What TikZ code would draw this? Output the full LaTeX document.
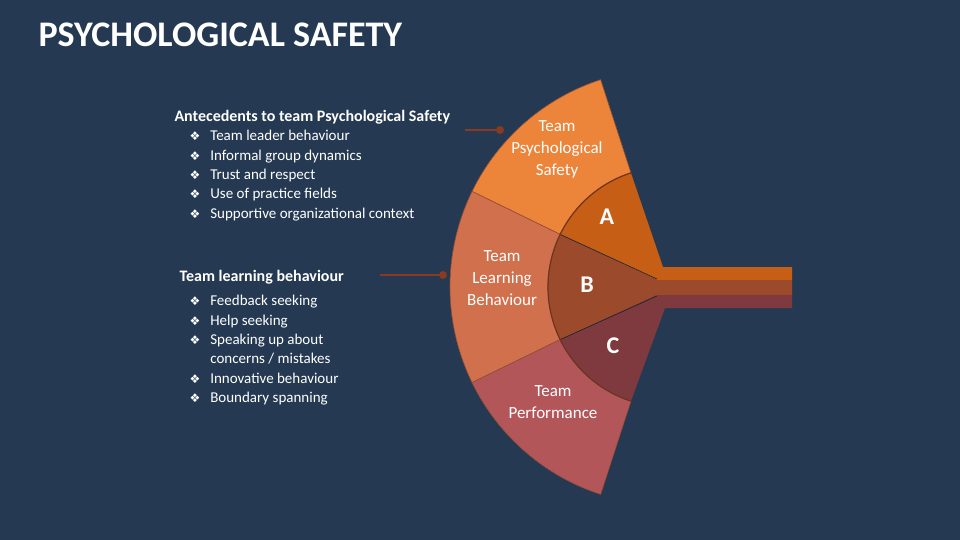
\documentclass[tikz,border=0pt]{standalone}
\usepackage{fontspec}
\usetikzlibrary{calc}
\setmainfont{Carlito}
\newfontfamily\symfont{DejaVu Sans}
\definecolor{bg}{HTML}{253A52}
\definecolor{oA}{HTML}{EC843A}
\definecolor{oB}{HTML}{D0704C}
\definecolor{oC}{HTML}{B3565A}
\definecolor{iA}{HTML}{C65E16}
\definecolor{iB}{HTML}{9C4A2C}
\definecolor{iC}{HTML}{7E3A3F}
\definecolor{conn}{HTML}{8A3A1E}
\tikzset{
 seg/.style={draw=black!30!oB, line width=0.6pt},
 lbl/.style={text=white, font=\fontsize{17}{22}\selectfont, align=center},
 letter/.style={text=white, font=\fontsize{24}{26}\selectfont\bfseries},
 head/.style={text=white, font=\fontsize{16}{18}\selectfont\bfseries, anchor=west},
 item/.style={text=white, font=\fontsize{15}{19.3}\selectfont, anchor=north west, align=left},
 connline/.style={draw=conn, line width=1.2pt},
 dot/.style={circle, fill=conn, inner sep=0pt, minimum size=8pt},
}
\newcommand{\bul}{{\symfont\fontsize{12}{19}\selectfont ❖}\hspace{10pt}}
\begin{document}
\begin{tikzpicture}[x=1pt,y=-1pt]
\fill[bg] (0,0) rectangle (960,540);
\useasboundingbox (0,0) rectangle (960,540);
\node[text=white, font=\fontsize{36}{38}\selectfont\bfseries, anchor=west] (title) at (35,35) {PSYCHOLOGICAL SAFETY};
\coordinate (c) at (668,287);
% outer sectors
\path[seg, fill=oA] ($(c)+(-108:218)$) arc[start angle=-108, end angle=-154, radius=218] -- ($(c)+(-154:120)$) arc[start angle=-154, end angle=-108, radius=120] -- cycle;
\path[seg, fill=oB] ($(c)+(-154:218)$) arc[start angle=-154, end angle=-206, radius=218] -- ($(c)+(-206:120)$) arc[start angle=-206, end angle=-154, radius=120] -- cycle;
\path[seg, fill=oC] ($(c)+(-206:218)$) arc[start angle=-206, end angle=-252, radius=218] -- ($(c)+(-252:120)$) arc[start angle=-252, end angle=-206, radius=120] -- cycle;
% inner sectors with bars
\path[fill=iA] ($(c)+(-154:120)$) arc[start angle=-154, end angle=-108, radius=120] -- (663,267) -- (792,267) -- (792,280) -- (657,280) -- cycle;
\path[fill=iB] ($(c)+(-154:120)$) -- (657,280) -- (792,280) -- (792,295) -- (657,295) -- ($(c)+(-206:120)$) arc[start angle=-206, end angle=-154, radius=120] -- cycle;
\path[fill=iC] ($(c)+(-206:120)$) -- (657,295) -- (792,295) -- (792,308) -- (665,308) -- ($(c)+(-252:120)$) arc[start angle=-252, end angle=-206, radius=120] -- cycle;
\draw[black!40!bg, line width=0.6pt] ($(c)+(-154:120)$) -- (657,279) ($(c)+(-206:120)$) -- (657,296);
\draw[black!30!iB, line width=1.2pt] ($(c)+(-108:120)$) arc[start angle=-108, end angle=-252, radius=120];
% labels
\node[lbl] (tps) at (557,149) {Team\\Psychological\\Safety};
\node[lbl] (tlb) at (502,278) {Team\\Learning\\Behaviour};
\node[lbl] (tp) at (553,402) {Team\\Performance};
\node[letter] (a) at (607,217) {A};
\node[letter] (b) at (587,285) {B};
\node[letter] (cc) at (613,346) {C};
% text
\node[head] (h1) at (171,117) {Antecedents to team Psychological Safety};
\node[item] (l1) at (186,127) {\bul Team leader behaviour\\\bul Informal group dynamics\\\bul Trust and respect\\\bul Use of practice fields\\\bul Supportive organizational context};
\node[head] (h2) at (176,277) {Team learning behaviour};
\node[item] (l2) at (186,292) {\bul Feedback seeking\\\bul Help seeking\\\bul Speaking up about\\\hphantom{\bul}concerns / mistakes\\\bul Innovative behaviour\\\bul Boundary spanning};
% connectors
\node[dot] (d1) at (500,130) {};
\node[dot] (d2) at (443,275) {};
\coordinate (s1) at (465,130);
\coordinate (s2) at (380,275);
\draw[connline] (s1) -- (d1);
\draw[connline] (s2) -- (d2);
\end{tikzpicture}
\end{document}
